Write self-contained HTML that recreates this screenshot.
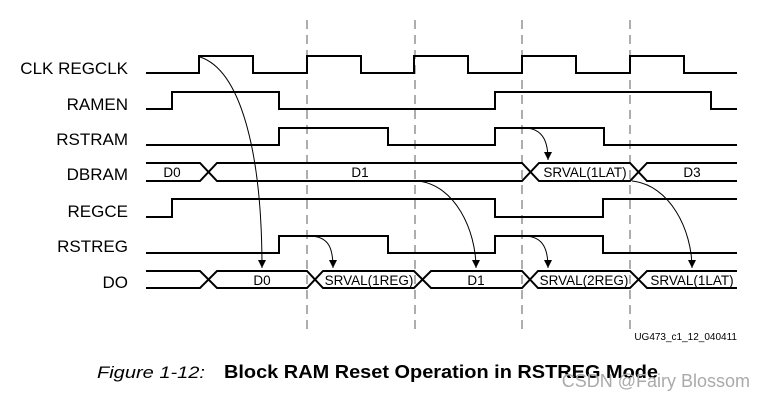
<!DOCTYPE html>
<html><head><meta charset="utf-8"><style>
body{margin:0;background:#fff;}
svg{display:block;}
text{font-family:"Liberation Sans",Arial,sans-serif;}
</style></head><body>
<svg width="765" height="401" viewBox="0 0 765 401" xmlns="http://www.w3.org/2000/svg">
<defs>
<marker id="a2" viewBox="0 0 10 10" markerWidth="8" markerHeight="10" refX="10" refY="5" orient="auto" markerUnits="userSpaceOnUse"><path d="M0,0 L10,5 L0,10 Z" fill="#000"/></marker></defs>
<g stroke="#777" stroke-width="1.2" stroke-dasharray="9,6">
<line x1="307" y1="20" x2="307" y2="330"/><line x1="415" y1="20" x2="415" y2="330"/><line x1="522" y1="20" x2="522" y2="330"/><line x1="630" y1="20" x2="630" y2="330"/>
</g>
<g font-size="17" text-anchor="end" fill="#000">
<text x="128" y="74">CLK REGCLK</text><text x="128" y="110">RAMEN</text><text x="128" y="145">RSTRAM</text><text x="128" y="180">DBRAM</text><text x="128" y="217">REGCE</text><text x="128" y="252">RSTREG</text><text x="128" y="288">DO</text>
</g>
<g fill="none" stroke="#000" stroke-width="2">
<path d="M146,73 H199 V56 H253 V73 H307 V56 H361 V73 H414 V56 H468 V73 H522 V56 H576 V73 H630 V56 H684 V73 H737"/>
<path d="M146,109 H172 V92 H279 V109 H495 V92 H711 V109 H737"/>
<path d="M146,145 H279 V128 H388 V145 H495 V128 H604 V145 H737"/>
<path d="M146,163 H200 L217,181 H522 L539,163 H630 L647,181 H737"/>
<path d="M146,181 H200 L217,163 H522 L539,181 H630 L647,163 H737"/>
<path d="M146,217 H172 V199 H495 V217 H603 V199 H737"/>
<path d="M146,253 H279 V236 H388 V253 H495 V236 H603 V253 H737"/>
<path d="M146,271 H200 L217,288 H307 L323,271 H414 L431,288 H522 L538,271 H630 L647,288 H737"/>
<path d="M146,288 H200 L217,271 H307 L323,288 H414 L431,271 H522 L538,288 H630 L647,271 H737"/>
</g>
<g font-size="13.5" text-anchor="middle" fill="#000">
<text x="172" y="177">D0</text><text x="360" y="177">D1</text><text x="585" y="177">SRVAL(1LAT)</text><text x="692" y="177">D3</text>
<text x="262" y="285">D0</text><text x="369" y="285">SRVAL(1REG)</text><text x="476" y="285">D1</text><text x="584" y="285">SRVAL(2REG)</text><text x="692" y="285">SRVAL(1LAT)</text>
</g>
<g fill="none" stroke="#000" stroke-width="1">
<path d="M200,57 C240,70 262,150 262,268" marker-end="url(#a2)"/>
<path d="M309,236 C330,236 333,250 333,268" marker-end="url(#a2)"/>
<path d="M418,181 C455,185 476,230 476,268" marker-end="url(#a2)"/>
<path d="M524,128 C545,128 548,145 548,160" marker-end="url(#a2)"/>
<path d="M524,236 C545,236 548,252 548,268" marker-end="url(#a2)"/>
<path d="M632,181 C670,185 692,230 692,268" marker-end="url(#a2)"/>
</g>
<text x="737" y="340" font-size="10" text-anchor="end">UG473_c1_12_040411</text>
<text x="97" y="378" font-size="17" font-style="italic" textLength="108" lengthAdjust="spacingAndGlyphs">Figure 1-12:</text>
<text x="224" y="378" font-size="18" font-weight="bold" textLength="434" lengthAdjust="spacingAndGlyphs">Block RAM Reset Operation in RSTREG Mode</text>
<text x="750" y="387" font-size="18" text-anchor="end" fill="#aaa">CSDN @Fairy Blossom</text>
</svg>
</body></html>
